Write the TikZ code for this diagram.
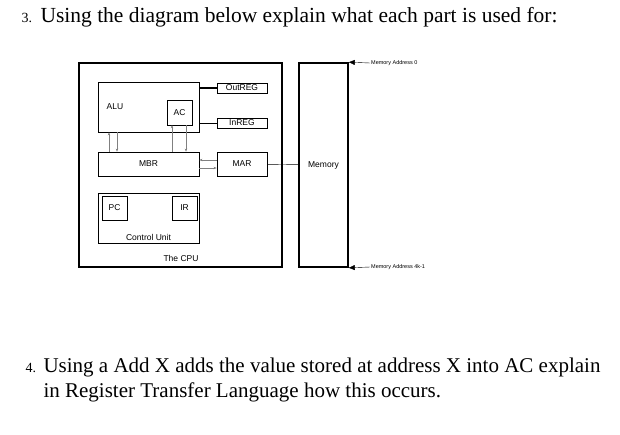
\documentclass[tikz,border=0pt]{standalone}
\usepackage{fontspec}
\setmainfont{Liberation Serif}
\newfontfamily\diagfont{Liberation Sans}
\usetikzlibrary{arrows.meta}
\tikzset{
  reg/.style={draw, thick, font=\diagfont\fontsize{8.5}{9}\selectfont},
  bigbox/.style={draw, line width=1.6pt},
  bus/.style={draw=gray, thin, -{Stealth[length=3pt,width=2.5pt]}},
  memarrow/.style={-{Triangle[length=6pt,width=5pt]}, thin},
  question/.style={anchor=base west, font=\fontsize{21.5}{24}\selectfont}
}
\begin{document}
\begin{tikzpicture}[x=1pt,y=-1pt]
\useasboundingbox (0,0) rectangle (620,434);

% questions
\node (q3num) [anchor=base west, font=\fontsize{14}{16}\selectfont] at (18,22) {3.};
\node (q3) [question] at (37,22) {Using the diagram below explain what each part is used for:};
\node (q4num) [anchor=base west, font=\fontsize{14}{16}\selectfont] at (22,372) {4.};
\node (q4) [question, font=\fontsize{21}{24}\selectfont] at (40,372) {Using a Add X adds the value stored at address X into AC explain};
\node (q4b) [question, font=\fontsize{21}{24}\selectfont] at (40,397) {in Register Transfer Language how this occurs.};

% cpu and memory
\draw [bigbox] (79,63) rectangle (282,267);
\node (cpu) [font=\diagfont\fontsize{8.5}{9}\selectfont] at (181,258) {The CPU};
\node (mem) [bigbox, minimum width=49pt, minimum height=204pt, inner sep=0pt,
  font=\diagfont\fontsize{8.5}{9}\selectfont] at (323.5,165) {Memory};

% registers
\node (alu) [reg, minimum width=101pt, minimum height=50pt, inner sep=0pt] at (148.5,107) {};
\node [font=\diagfont\fontsize{8.5}{9}\selectfont] at (115,107) {ALU};
\node (ac) [reg, thin, minimum width=25pt, minimum height=25pt, inner sep=0pt] at (179.5,112.5) {AC};
\node (out) [reg, minimum width=50pt, minimum height=10pt, inner sep=0pt] at (242,88) {OutREG};
\node (in) [reg, minimum width=50pt, minimum height=10pt, inner sep=0pt] at (242,123) {InREG};
\node (mbr) [reg, minimum width=101pt, minimum height=24pt, inner sep=0pt] at (148.5,164) {MBR};
\node (mar) [reg, minimum width=50pt, minimum height=24pt, inner sep=0pt] at (242,164) {MAR};
\node (cu) [reg, minimum width=101pt, minimum height=50pt, inner sep=0pt] at (148.5,218) {};
\node [font=\diagfont\fontsize{8.5}{9}\selectfont] at (148.5,237) {Control Unit};
\node (pc) [reg, minimum width=25pt, minimum height=24pt, inner sep=0pt] at (114.5,208) {PC};
\node (ir) [reg, minimum width=25pt, minimum height=24pt, inner sep=0pt] at (184.5,208) {IR};

% links
\draw [line width=1.2pt] (alu.east |- out) -- (out);
\draw [thin] (alu.east |- in) -- (in);
\draw [thin] (mar) -- (mem);
\draw [bus] (mbr.north -| 109,0) -- (alu.south -| 109,0);
\draw [bus] (alu.south -| 117,0) -- (mbr.north -| 117,0);
\draw [bus] (mbr.north -| 172,0) -- (ac.south -| 172,0);
\draw [bus] (ac.south -| 186,0) -- (mbr.north -| 186,0);
\draw [bus] (mar.west |- 0,160) -- (mbr.east |- 0,160);
\draw [bus] (mbr.east |- 0,168) -- (mar.west |- 0,168);

% memory addresses
\coordinate (a0) at (370,63);
\coordinate (a4k) at (370,267);
\draw [memarrow] (a0) -- (mem.north east);
\draw [memarrow] (a4k) -- (mem.south east);
\node [anchor=west, inner sep=1pt, font=\diagfont\fontsize{5.5}{6}\selectfont] at (a0) {Memory Address 0};
\node [anchor=west, inner sep=1pt, font=\diagfont\fontsize{5.5}{6}\selectfont] at (a4k) {Memory Address 4k-1};
\end{tikzpicture}
\end{document}
